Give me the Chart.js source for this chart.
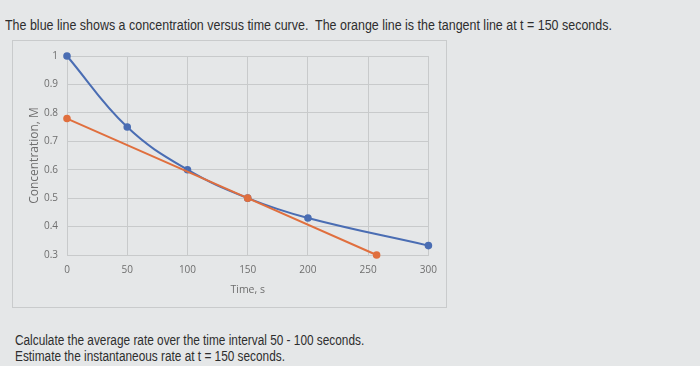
<!DOCTYPE html>
<html>
<head>
<meta charset="utf-8">
<script src="https://cdn.jsdelivr.net/npm/chart.js@4/dist/chart.umd.min.js"></script>
<style>
  html, body { margin: 0; padding: 0; }
  body {
    width: 700px; height: 366px; overflow: hidden; position: relative;
    background: #e5e7e8;
    font-family: "Liberation Sans", Arial, sans-serif;
    color: #2e2e2e;
  }
  .txt {
    position: absolute; left: 5px; white-space: nowrap;
    font-size: 14px; line-height: 16px;
    transform: scaleX(0.845); transform-origin: 0 50%;
  }
  #box {
    position: absolute; left: 12px; top: 40px; width: 435px; height: 268px;
    border: 1px solid #c9cbcc; box-sizing: border-box;
  }
</style>
</head>
<body>
<div class="txt" style="top:17px; transform: scaleX(0.89)">The blue line shows a concentration versus time curve.&nbsp; The orange line is the tangent line at t = 150 seconds.</div>
<div id="box"><canvas id="conc_chart"></canvas></div>
<div class="txt" style="left:15px; top:332px">Calculate the average rate over the time interval 50 - 100 seconds.</div>
<div class="txt" style="left:15px; top:348px">Estimate the instantaneous rate at t = 150 seconds.</div>

<script>
// concentration curve (blue)
const curveTimes = [0, 50, 100, 150, 200, 300];
const curveConc = [1.0, 0.75, 0.6, 0.5, 0.43, 0.333];

// tangent at t = 150 (orange)
const tangentTimes = [0, 150, 257];
const tangentConc = [0.78, 0.5, 0.3];

// axis ticks
const timeTicks = [0, 50, 100, 150, 200, 250, 300];
const concTicks = [0.3, 0.4, 0.5, 0.6, 0.7, 0.8, 0.9, 1];

const toPoints = (xs, ys) => xs.map((x, i) => ({ x: x, y: ys[i] }));

const tickFont = { family: "'Open Sans', sans-serif", size: 10 };
const gridColor = "#c8cacb";
const labelColor = "#6e6e6e";

new Chart(document.getElementById("conc_chart"), {
    type: "scatter",
    data: {
        datasets: [{
            label: "Tangent",
            data: toPoints(tangentTimes, tangentConc),
            showLine: true,
            clip: false,
            borderColor: "#e06f3e",
            backgroundColor: "#e06f3e",
            borderWidth: 2,
            pointRadius: 2.8,
            pointHoverRadius: 2.8,
            order: 0
        }, {
            label: "Concentration",
            data: toPoints(curveTimes, curveConc),
            showLine: true,
            clip: false,
            tension: 0.4,
            borderColor: "#4a6db3",
            backgroundColor: "#4a6db3",
            borderWidth: 2,
            pointRadius: 2.8,
            pointHoverRadius: 2.8,
            order: 1
        }]
    },
    options: {
        responsive: true,
        maintainAspectRatio: false,
        animation: false,
        layout: { padding: { left: 0, right: 12, top: 13, bottom: 0 } },
        plugins: {
            legend: { display: false },
            tooltip: { enabled: false }
        },
        scales: {
            x: {
                type: "linear",
                min: timeTicks[0],
                max: timeTicks[timeTicks.length - 1],
                afterBuildTicks: (axis) => { axis.ticks = timeTicks.map(v => ({ value: v })); },
                afterFit: (axis) => { axis.height = 52; },
                grid: { color: gridColor, drawTicks: false },
                border: { color: gridColor },
                ticks: { color: labelColor, font: tickFont, padding: 9, maxRotation: 0 },
                title: {
                    display: true, text: "Time, s", color: labelColor,
                    font: { family: tickFont.family, size: 10.5 }, padding: { top: 0, bottom: 11 }
                }
            },
            y: {
                min: concTicks[0],
                max: concTicks[concTicks.length - 1],
                afterBuildTicks: (axis) => { axis.ticks = concTicks.map(v => ({ value: v })); },
                afterFit: (axis) => { axis.width = 54; },
                grid: { color: gridColor, drawTicks: false },
                border: { color: gridColor },
                ticks: {
                    color: labelColor, font: tickFont, padding: 9,
                    callback: (v) => String(+v.toFixed(1))
                },
                title: {
                    display: true, text: "Concentration, M", color: labelColor,
                    font: { family: tickFont.family, size: 12 }, padding: { top: 14, bottom: 0 }
                }
            }
        }
    }
});
</script>
</body>
</html>
